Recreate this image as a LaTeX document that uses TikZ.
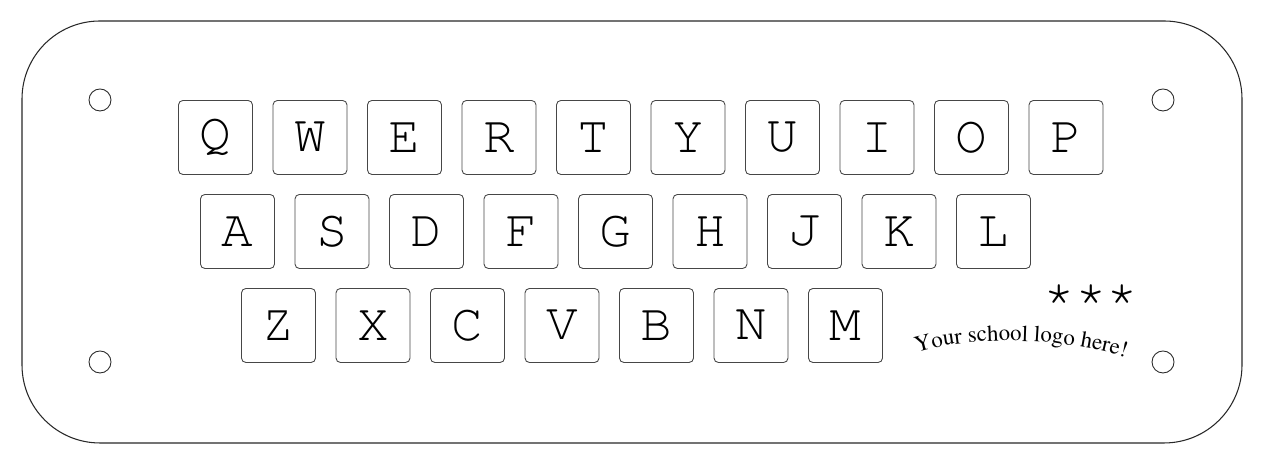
\documentclass[tikz,border=0pt]{standalone}
\usepackage[T1]{fontenc}
\usepackage{amsmath}
\usetikzlibrary{positioning, calc}
\usetikzlibrary{decorations.text}
\newcommand{\keyfont}{\fontfamily{pcr}\fontsize{30}{30}\selectfont}
\newcommand{\logofont}{\fontfamily{ptm}\fontsize{13}{13}\selectfont}
\definecolor{Edge}{RGB}{40, 40, 40}
\definecolor{KeyEdge}{RGB}{70, 70, 70}

\begin{document}
\begin{tikzpicture}[
            keycap/.style={rectangle, rounded corners=2.5pt, draw=KeyEdge, line width=0.5pt, minimum size=1.48cm, inner sep=0pt, font=\keyfont},
            hole/.style={circle, draw=Edge, line width=0.5pt, minimum size=0.44cm, inner sep=0pt}
        ]
            \useasboundingbox (0,0) rectangle (25.28,9.28);
            \draw[Edge, line width=0.6pt, rounded corners=1.56cm] (0.44,0.42) rectangle (24.84,8.86);
            \node[hole] (h1) at (2.0,7.28) {};
            \node[hole] (h2) at (23.26,7.28) {};
            \node[hole] (h3) at (2.0,2.04) {};
            \node[hole] (h4) at (23.26,2.04) {};
            \node[keycap] (kq) at (4.31,6.53) {Q};
            \node[keycap] (kw) at (6.20,6.53) {W};
            \node[keycap] (ke) at (8.09,6.53) {E};
            \node[keycap] (kr) at (9.98,6.53) {R};
            \node[keycap] (kt) at (11.87,6.53) {T};
            \node[keycap] (ky) at (13.76,6.53) {Y};
            \node[keycap] (ku) at (15.65,6.53) {U};
            \node[keycap] (ki) at (17.54,6.53) {I};
            \node[keycap] (ko) at (19.43,6.53) {O};
            \node[keycap] (kp) at (21.32,6.53) {P};
            \node[keycap] (ka) at (4.75,4.65) {A};
            \node[keycap] (ks) at (6.64,4.65) {S};
            \node[keycap] (kd) at (8.53,4.65) {D};
            \node[keycap] (kf) at (10.42,4.65) {F};
            \node[keycap] (kg) at (12.31,4.65) {G};
            \node[keycap] (kh) at (14.20,4.65) {H};
            \node[keycap] (kj) at (16.09,4.65) {J};
            \node[keycap] (kk) at (17.98,4.65) {K};
            \node[keycap] (kl) at (19.87,4.65) {L};
            \node[keycap] (kz) at (5.57,2.77) {Z};
            \node[keycap] (kx) at (7.46,2.77) {X};
            \node[keycap] (kc) at (9.35,2.77) {C};
            \node[keycap] (kv) at (11.24,2.77) {V};
            \node[keycap] (kb) at (13.13,2.77) {B};
            \node[keycap] (kn) at (15.02,2.77) {N};
            \node[keycap] (km) at (16.91,2.77) {M};
            \node[inner sep=0pt, font=\keyfont] (stars) at (21.82,3.36) {\raisebox{0pt}[\height][-0.3em]{***}};
            \path[decorate, decoration={text along path, text align=center,
                text={|\logofont|Your school logo here!}}]
                (18.2,2.19) .. controls (19.2,2.55) and (21.2,2.59) .. (22.64,2.09);
        \end{tikzpicture}
\end{document}
